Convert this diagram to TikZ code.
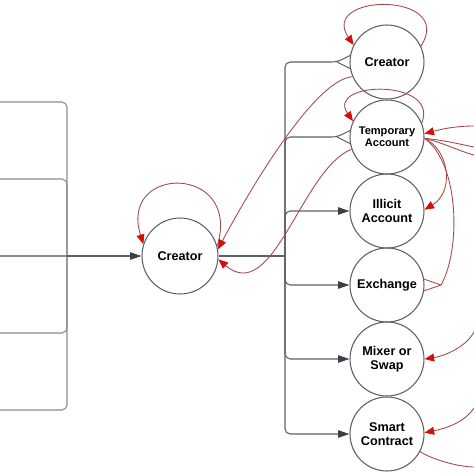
\documentclass[tikz,border=0pt]{standalone}
\usepackage{fontspec}
\setmainfont{Liberation Sans}
\usetikzlibrary{arrows.meta}

\definecolor{linegray}{HTML}{5F6063}
\definecolor{leftgray}{HTML}{8C8C8C}
\definecolor{headgray}{HTML}{3B4048}
\definecolor{flowred}{HTML}{A54A4A}
\definecolor{headred}{HTML}{D10F0F}

\begin{document}
\begin{tikzpicture}[x=0.02cm, y=-0.02cm,
  entity/.style={circle, draw=linegray, line width=0.6pt, minimum size=1.48cm, inner sep=0pt, align=center, font=\fontsize{7.2}{8}\selectfont\bfseries},
  link/.style={draw=linegray, line width=0.6pt, rounded corners=3pt},
  feed/.style={draw=leftgray, line width=0.6pt, rounded corners=3pt},
  flow/.style={draw=flowred, line width=0.5pt},
  grayhead/.style={-{Triangle[length=6.5pt, width=4.2pt, color=headgray]}},
  redhead/.style={-{Triangle[length=5.5pt, width=4.5pt, color=headred]}}]

\useasboundingbox (0,0) rectangle (474,474);

\node[entity, minimum size=1.52cm] (cc) at (180,256) {Creator};
\node[entity] (crt) at (387,62) {Creator};
\node[entity, font=\fontsize{6.3}{7}\selectfont\bfseries] (tmp) at (387,137) {Temporary\\Account};
\node[entity] (ill) at (387,211) {Illicit\\Account};
\node[entity] (exc) at (387,285) {Exchange};
\node[entity] (mix) at (387,359) {Mixer or\\Swap};
\node[entity] (sc) at (387,434) {Smart\\Contract};

\coordinate (l1) at (0,102);
\coordinate (l2) at (0,179);
\coordinate (l3) at (0,256);
\coordinate (l4) at (0,333);
\coordinate (l5) at (0,410);
\coordinate (lj) at (67,256);
\coordinate (rj) at (285,256);
\coordinate (crtfoot) at (337,62);
\coordinate (tmpfoot) at (337,137);
\coordinate (excfoot) at (441,285);
\coordinate (tmpin) at (474,126);
\coordinate (tmpout1) at (474,147);
\coordinate (tmpout2) at (474,155);
\coordinate (mixin) at (474,332);
\coordinate (scin) at (474,408);
\coordinate (scout) at (474,467);

\draw[feed] (l1) -| (lj);
\draw[feed] (l2) -| (lj);
\draw[feed] (l3) -- (lj);
\draw[feed] (l4) -| (lj);
\draw[feed] (l5) -| (lj);
\draw[link, grayhead] (lj) -- (cc);

\draw[link] (cc) -- (rj);
\draw[link] (rj) |- (crtfoot) -- (crt.170) (crtfoot) -- (crt.190);
\draw[link] (rj) |- (tmpfoot) -- (tmp.170) (tmpfoot) -- (tmp.190);
\draw[link, grayhead] (rj) |- (ill);
\draw[link, grayhead] (rj) |- (exc);
\draw[link, grayhead] (rj) |- (mix);
\draw[link, grayhead] (rj) |- (sc);

\draw[flow, redhead] (cc.15) .. controls +(25,-82) and +(-25,-80) .. (cc.162);
\draw[flow, redhead] (crt.25) .. controls +(35,-55) and +(-35,-52) .. (crt.153);
\draw[flow, redhead] (tmp.22) .. controls +(18,-45) and +(-28,-40) .. (tmp.155);
\draw[flow, redhead] (crt.203) .. controls +(-40,3) and +(25,-47) .. (cc.10);
\draw[flow, redhead] (tmp.199) .. controls +(-50,20) and +(55,47) .. (cc.-5);

\draw[flow, redhead] (tmpin) .. controls +(-20,0) and +(15,-4) .. (tmp.5);
\draw[flow] (tmp.-2) .. controls +(20,2) and +(-15,-3) .. (tmpout1);
\draw[flow] (tmp.-2) .. controls +(20,5) and +(-15,-4) .. (tmpout2);
\draw[flow, redhead] (tmp.-2) .. controls +(25,12) and +(30,-18) .. (ill.2);
\draw[flow] (tmp.-2) .. controls +(35,25) and +(20,-35) .. (excfoot) -- (exc.9) (excfoot) -- (exc.-9);

\draw[flow, redhead] (mixin) .. controls +(-8,15) and +(20,-3) .. (mix.0);
\draw[flow, redhead] (scin) .. controls +(-10,15) and +(20,-4) .. (sc.2);
\draw[flow] (sc.-28) .. controls +(12,8) and +(-15,0) .. (scout);

\end{tikzpicture}
\end{document}
